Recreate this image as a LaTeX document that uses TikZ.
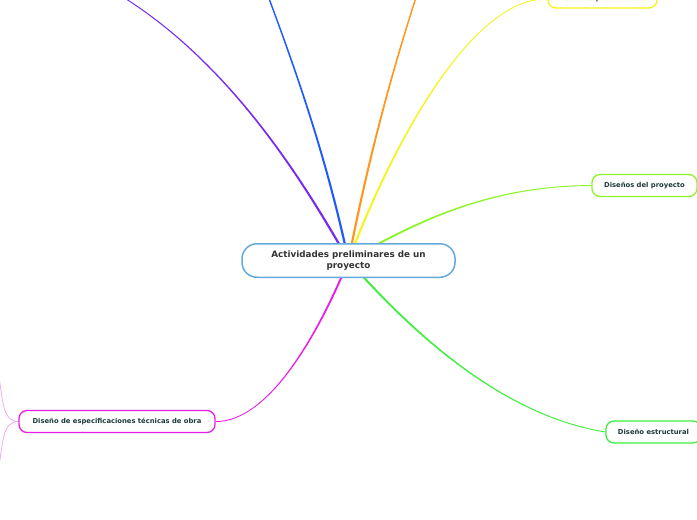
\documentclass[tikz,border=0pt]{standalone}
\usepackage{fontspec}
\setmainfont{DejaVu Sans}
\usetikzlibrary{calc,backgrounds}
\definecolor{centerc}{RGB}{100,170,220}
\definecolor{yelc}{RGB}{245,245,20}
\definecolor{chartc}{RGB}{140,245,40}
\definecolor{greenc}{RGB}{60,240,60}
\definecolor{magc}{RGB}{230,30,230}
\definecolor{purc}{RGB}{120,40,240}
\definecolor{bluec}{RGB}{30,90,255}
\definecolor{orac}{RGB}{255,150,30}
\definecolor{pinkc}{RGB}{245,160,245}
\definecolor{txtc}{RGB}{30,58,58}
\definecolor{ctxt}{RGB}{51,51,51}
% tapered connector: P0, c1, c2, P3, half-width start, half-width end, colour
\newcommand{\taperline}[7]{%
  \coordinate (tA) at ($(#1)!#5!90:(#2)$);
  \coordinate (tB) at ($(#1)!#5!-90:(#2)$);
  \coordinate (tC) at ($(#4)!#6!-90:(#3)$);
  \coordinate (tD) at ($(#4)!#6!90:(#3)$);
  \fill[#7] (tA) .. controls ($(#2)+(tA)-(#1)$) and ($(#3)+(tC)-(#4)$) .. (tC)
    -- (tD) .. controls ($(#3)+(tD)-(#4)$) and ($(#2)+(tB)-(#1)$) .. (tB) -- cycle;
}
\begin{document}
\begin{tikzpicture}[x=1pt,y=-1pt,
  mapnode/.style={draw, fill=white, rounded corners=8pt, line width=1.3pt,
    minimum height=22pt, inner sep=0pt, text=txtc,
    font=\bfseries\fontsize{6.8}{8}\selectfont},
  centernode/.style={draw=centerc, fill=white, rounded corners=15pt, line width=1.5pt,
    minimum width=213pt, minimum height=33.5pt, inner sep=0pt, text=ctxt, align=center,
    font=\bfseries\fontsize{8.8}{11}\selectfont},
  branch/.style={line width=0.7pt}
]
\useasboundingbox (0,0) rectangle (697,520);
\clip (0,0) rectangle (697,520);

\node[centernode] (c) at (348.5,260.5) {Actividades preliminares de un\\proyecto};
\node[mapnode, draw=yelc, minimum width=109pt, minimum height=18pt] (est) at (602.5,-1) {Estudios preliminares};
\node[mapnode, draw=chartc, minimum width=105pt] (dp) at (644.5,185.5) {Diseños del proyecto};
\node[mapnode, draw=greenc, minimum width=95pt] (de) at (653.5,432) {Diseño estructural};
\node[mapnode, draw=magc, minimum width=196pt] (es) at (117,421.5) {Diseño de especificaciones técnicas de obra};

\coordinate (pend) at (72,-30);
\coordinate (bend) at (262,-20);
\coordinate (oend) at (425,-30);
\coordinate (pkup) at (-2,370);
\coordinate (pkdn) at (-2,473);

\begin{pgfonlayer}{background}
\fill[white] (0,0) rectangle (697,520);
\taperline{c.center}{297,170}{210,30}{pend}{1.1pt}{0.45pt}{purc}
\taperline{c.center}{328,165}{300,80}{bend}{1.1pt}{0.7pt}{bluec}
\taperline{c.center}{370,150}{395,60}{oend}{1.1pt}{0.7pt}{orac}
\taperline{c.center}{390,150}{470,-3}{est.west}{1.0pt}{0.45pt}{yelc}
\taperline{c.center}{430,213}{500,186}{dp.west}{1.0pt}{0.45pt}{chartc}
\taperline{c.center}{410,330}{500,415}{de.west}{1.0pt}{0.45pt}{greenc}
\taperline{c.center}{320,330}{270,422}{es.east}{1.0pt}{0.45pt}{magc}
\draw[branch, pinkc] (es.west) .. controls (2,421.5) and (3,400) .. (pkup);
\draw[branch, pinkc] (es.west) .. controls (2,421.5) and (3,443) .. (pkdn);
\end{pgfonlayer}
\end{tikzpicture}
\end{document}
